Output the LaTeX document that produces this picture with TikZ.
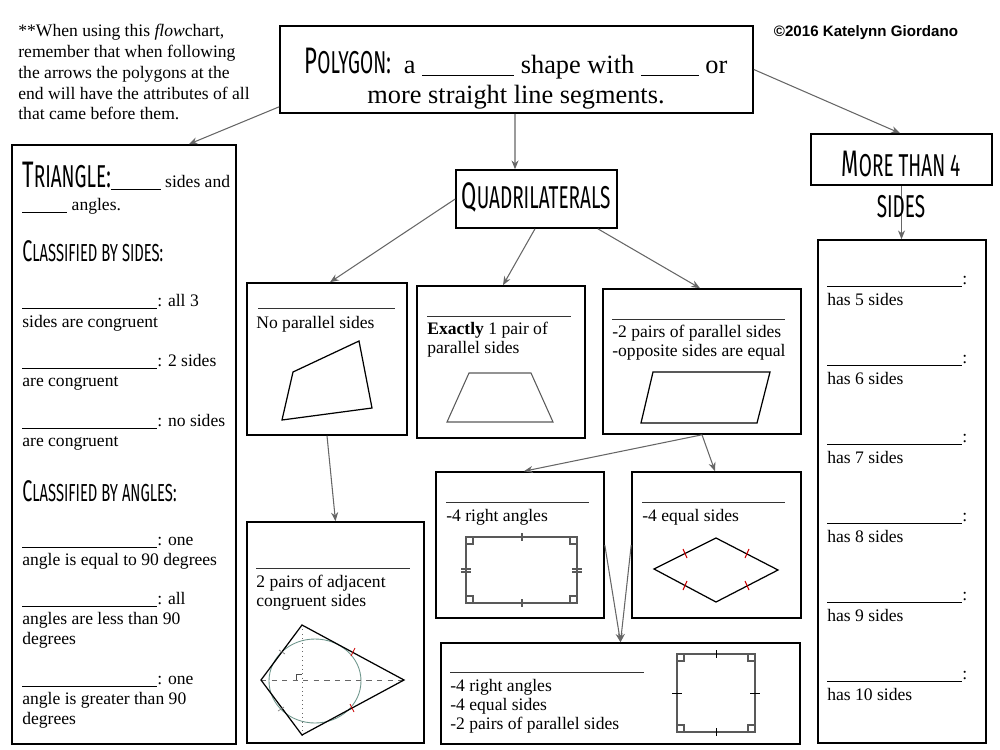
\documentclass[tikz,border=0pt]{standalone}
\usepackage{fontspec}
\setmainfont{Liberation Serif}
\newfontfamily\handfont[FakeStretch=0.6]{Fira Sans}
\newfontfamily\markfont{Liberation Sans}
\usetikzlibrary{arrows.meta,fit}

\newcommand\blank[1]{\rule[-1.5pt]{#1}{0.5pt}}
\newcommand\bighd[2]{{\handfont\fontsize{21}{24}\selectfont #1\fontsize{18}{20}\selectfont #2}}
\newcommand\smallhd[2]{{\handfont\fontsize{17}{18}\selectfont #1\fontsize{14}{14}\selectfont #2}}

\tikzset{
  box/.style={draw, line width=0.9pt, inner sep=0pt},
  arr/.style={draw=black!60, line width=0.6pt, -{Stealth[length=5pt,width=4pt]}},
  txt/.style={anchor=base west, inner sep=0pt, font=\fontsize{10}{12}\selectfont},
  mid/.style={anchor=base, inner sep=0pt},
  hline/.style={line width=0.5pt, black!80},
  fig/.style={draw=black!65, line width=0.6pt},
  tick/.style={red!80!black, line width=0.6pt},
}

\begin{document}
\begin{tikzpicture}[x=0.02cm, y=-0.02cm]
\useasboundingbox (0,0) rectangle (1000,750);

% note and copyright
\node[txt] (note1) at (18,37) {**When using this \emph{flow}chart,};
\node[txt] (note2) at (18,58) {remember that when following};
\node[txt] (note3) at (18,79) {the arrows the polygons at the};
\node[txt] (note4) at (18,99) {end will have the attributes of all};
\node[txt] (note5) at (18,119) {that came before them.};
\node[mid, font=\markfont\bfseries\fontsize{8.6}{10}\selectfont] (copy) at (866,37) {©2016 Katelynn Giordano};

% boxes
\node[box, fit={(280,26) (753,113)}] (poly) {};
\node[box, fit={(12,145) (236,744)}] (tri) {};
\node[box, fit={(456,170) (617,228)}] (quad) {};
\node[box, fit={(811,134) (992,185)}] (more) {};
\node[box, fit={(818,240) (986,743)}] (many) {};
\node[box, fit={(247,283) (407,435)}] (nopar) {};
\node[box, fit={(417,286) (585,438)}] (trap) {};
\node[box, fit={(603,289) (801,434)}] (para) {};
\node[box, fit={(436,472) (604,618)}] (rect) {};
\node[box, fit={(632,472) (801,618)}] (rhom) {};
\node[box, fit={(247,522) (424,743)}] (kite) {};
\node[box, fit={(441,643) (800,744)}] (sq) {};

% arrows
\draw[arr] ([yshift=0.14cm]poly.south west) -- ([xshift=-0.96cm]tri.north east);
\draw[arr] ([xshift=-0.03cm]poly.south) -- ([xshift=-0.43cm]quad.north);
\draw[arr] (poly.east) -- ([xshift=-0.03cm]more.north);
\draw[arr] (more.south) -- (more.south |- many.north);
\draw[arr] (quad.west) -- ([xshift=0.06cm]nopar.north);
\draw[arr] ([xshift=-0.03cm]quad.south) -- ([xshift=0.04cm]trap.north);
\draw[arr] ([xshift=-0.4cm]quad.south east) -- ([xshift=-0.04cm]para.north);
\draw[arr] (para.south) -- ([xshift=0.08cm]rect.north);
\draw[arr] (para.south) -- ([xshift=-0.03cm]rhom.north);
\draw[arr] (nopar.south) -- (kite.north);
\draw[arr] (rect.east) -- (sq.north);
\draw[arr] (rhom.west) -- (sq.north);

% polygon
\node[mid, font=\fontsize{15}{18}\selectfont] (polyA) at (516,73) {\bighd{P}{OLYGON:}\ \ a \blank{1.84cm} shape with \blank{1.16cm} or};
\node[mid, font=\fontsize{15}{18}\selectfont] (polyB) at (516,104) {more straight line segments.};

\node[mid] (quadT) at (536,208) {\bighd{Q}{UADRILATERALS}};
\node[mid] (moreA) at (901,176) {\bighd{M}{ORE THAN 4}};
\node[mid] (moreB) at (901,217) {\bighd{}{SIDES}};

% triangle
\node[txt] (tri1) at (22,187) {\bighd{T}{RIANGLE:}\blank{1cm} sides and};
\node[txt] (tri2) at (22,210) {\blank{0.9cm} angles.};
\node[txt] (tri3) at (22,261) {\smallhd{C}{LASSIFIED BY SIDES:}};
\node[txt] (tri4) at (22,306) {\blank{2.7cm}: all 3};
\node[txt] (tri5) at (22,327) {sides are congruent};
\node[txt] (tri6) at (22,366) {\blank{2.7cm}: 2 sides};
\node[txt] (tri7) at (22,386) {are congruent};
\node[txt] (tri8) at (22,426) {\blank{2.7cm}: no sides};
\node[txt] (tri9) at (22,446) {are congruent};
\node[txt] (tri10) at (22,501) {\smallhd{C}{LASSIFIED BY ANGLES:}};
\node[txt] (tri11) at (22,545) {\blank{2.7cm}: one};
\node[txt] (tri12) at (22,565) {angle is equal to 90 degrees};
\node[txt] (tri13) at (22,604) {\blank{2.7cm}: all};
\node[txt] (tri14) at (22,624) {angles are less than 90};
\node[txt] (tri15) at (22,644) {degrees};
\node[txt] (tri16) at (22,684) {\blank{2.7cm}: one};
\node[txt] (tri17) at (22,704) {angle is greater than 90};
\node[txt] (tri18) at (22,724) {degrees};

% more than 4 sides
\foreach \n [count=\i from 0] in {5,...,10} {
  \node[txt] (name\n) at (827,284+79*\i) {\blank{2.7cm}:};
  \node[txt] (has\n) at (827,305+79*\i) {has \n\ sides};
}

% no parallel sides
\draw[hline] (258,308) -- (395,308);
\node[txt] (noparT) at (256,328) {No parallel sides};
\draw[line width=0.7pt] (293,372) -- (359,341) -- (372,408) -- (282,420) -- cycle;

% trapezoid
\draw[hline] (427,316) -- (571,316);
\node[txt] (trapA) at (427,334) {\textbf{Exactly} 1 pair of};
\node[txt] (trapB) at (427,353) {parallel sides};
\draw[fig] (469,373) -- (531,373) -- (553,422) -- (447,422) -- cycle;

% parallelogram
\draw[hline] (612,319) -- (785,319);
\node[txt] (paraA) at (612,337) {-2 pairs of parallel sides};
\node[txt] (paraB) at (612,356) {-opposite sides are equal};
\draw[line width=0.7pt] (653,372) -- (770,372) -- (757,423) -- (641,423) -- cycle;

% rectangle
\draw[hline] (446,502) -- (589,502);
\node[txt] (rectT) at (446,521) {-4 right angles};
\draw[fig] (466,537) rectangle (577,603);
\draw[fig] (466,544) -- (473,544) -- (473,537);
\draw[fig] (570,537) -- (570,544) -- (577,544);
\draw[fig] (466,596) -- (473,596) -- (473,603);
\draw[fig] (570,603) -- (570,596) -- (577,596);
\draw[fig] (522,533) -- (522,541);
\draw[fig] (522,599) -- (522,607);
\draw[fig] (461,569) -- (471,569) (461,572) -- (471,572);
\draw[fig] (572,569) -- (582,569) (572,572) -- (582,572);

% rhombus
\draw[hline] (642,502) -- (785,502);
\node[txt] (rhomT) at (642,521) {-4 equal sides};
\draw[line width=0.7pt] (654,569) -- (716,538) -- (778,570) -- (716,602) -- cycle;
\draw[tick] (683,549) -- (687,558);
\draw[tick] (749,549) -- (745,558);
\draw[tick] (687,581) -- (683,590);
\draw[tick] (745,581) -- (749,590);

% kite
\draw[hline] (256,568) -- (410,568);
\node[txt] (kiteA) at (256,587) {2 pairs of adjacent};
\node[txt] (kiteB) at (256,606) {congruent sides};
\draw[draw={rgb,255:red,110;green,150;blue,140}, line width=0.5pt] (315,681) ellipse [x radius=46, y radius=42];
\draw[black!60, dashed, line width=0.4pt] (261,680) -- (404,680);
\draw[black!60, dotted, line width=0.5pt] (302,625) -- (302,735);
\draw[black!70, line width=0.4pt] (296,680) -- (296,674) -- (302,674);
\draw[line width=0.7pt] (302,625) -- (404,680) -- (302,735) -- (261,680) -- cycle;
\draw[tick, line width=0.4pt] (351,656) -- (355,648);
\draw[tick, line width=0.4pt] (350,704) -- (354,712);
\draw[black!50, line width=0.4pt] (279,650) -- (285,654);
\draw[black!50, line width=0.4pt] (278,711) -- (284,707);

% square
\draw[hline] (450,672) -- (644,672);
\node[txt] (sqA) at (450,691) {-4 right angles};
\node[txt] (sqB) at (450,710) {-4 equal sides};
\node[txt] (sqC) at (450,729) {-2 pairs of parallel sides};
\draw[fig] (677,654) rectangle (755,732);
\draw[fig] (677,661) -- (684,661) -- (684,654);
\draw[fig] (748,654) -- (748,661) -- (755,661);
\draw[fig] (677,725) -- (684,725) -- (684,732);
\draw[fig] (748,732) -- (748,725) -- (755,725);
\draw[black, line width=0.5pt] (716,650) -- (716,658);
\draw[black, line width=0.5pt] (716,728) -- (716,736);
\draw[black, line width=0.5pt] (672,693) -- (682,693);
\draw[black, line width=0.5pt] (750,693) -- (760,693);
\end{tikzpicture}
\end{document}
